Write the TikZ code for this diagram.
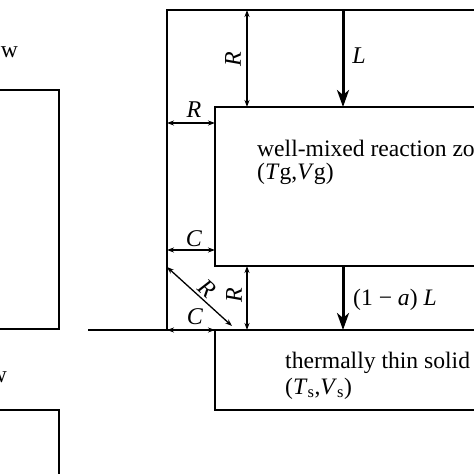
\documentclass[tikz,border=0pt]{standalone}
\usepackage{fontspec}
\setmainfont{Liberation Serif}
\usetikzlibrary{arrows.meta}
\begin{document}
\begin{tikzpicture}[x=1pt,y=-1pt,
  wall/.style={line width=1.7pt},
  dim/.style={line width=1.3pt,{Stealth[length=7pt,width=5pt]}-{Stealth[length=7pt,width=5pt]}},
  flux/.style={line width=3pt,-{Stealth[length=17pt,width=12pt,inset=5pt]}},
  lbl/.style={font=\fontsize{24}{27}\selectfont\itshape, inner sep=0pt},
  txt/.style={font=\fontsize{23.6}{27}\selectfont, inner sep=0pt, anchor=base west}]
\useasboundingbox (0,0) rectangle (474,474);
\clip (0,0) rectangle (474,474);
% named corners
\coordinate (oTL) at (167,10);
\coordinate (oTR) at (474,10);
\coordinate (oBL) at (167,330);
\coordinate (gL) at (88,330);
\coordinate (gR) at (474,330);
\coordinate (zTL) at (215,107);
\coordinate (zTR) at (474,107);
\coordinate (zBL) at (215,266);
\coordinate (zBR) at (474,266);
\coordinate (sTL) at (215,330);
\coordinate (sBL) at (215,410);
\coordinate (sBR) at (474,410);
% walls
\draw[wall] (oTR) -- (oTL) -- (oBL);
\draw[wall] (gL) -- (gR);
\draw[wall] (zTR) -- (zTL) -- (zBL) -- (zBR);
\draw[wall] (sTL) -- (sBL) -- (sBR);
% left partial boxes
\coordinate (l1a) at (-5,90);
\coordinate (l1b) at (59,90);
\coordinate (l1c) at (59,329);
\coordinate (l1d) at (-5,329);
\draw[wall] (l1a) -- (l1b) -- (l1c) -- (l1d);
\coordinate (l2a) at (-5,410);
\coordinate (l2b) at (59,410);
\coordinate (l2c) at (59,480);
\draw[wall] (l2a) -- (l2b) -- (l2c);
\node[txt, anchor=base east] (ow1) at (18,57) {ow};
\node[txt, anchor=base east] (ow2) at (7,382) {w};
% flux arrows
\coordinate (L1) at (343,10);
\coordinate (L2) at (343,107);
\draw[flux] (L1) -- (L2);
\node[lbl] (Llab) at (359,56) {L};
\coordinate (aL1) at (343,266);
\coordinate (aL2) at (343,330);
\draw[flux] (aL1) -- (aL2);
\node[txt] (aLlab) at (353,305) {(1 \char"2212\ \textit{a}) \textit{L}};
% dimension arrows
\coordinate (d1a) at (247,10);  \coordinate (d1b) at (247,107);
\draw[dim] (d1a) -- (d1b);
\node[lbl, rotate=90] (r1) at (233,59) {R};
\coordinate (d2a) at (167,123); \coordinate (d2b) at (215,123);
\draw[dim] (d2a) -- (d2b);
\node[lbl] (r2) at (194,110) {R};
\coordinate (d3a) at (167,250); \coordinate (d3b) at (215,250);
\draw[dim] (d3a) -- (d3b);
\node[lbl] (c1) at (194,239) {C};
\coordinate (d4a) at (167,267); \coordinate (d4b) at (232,326);
\draw[dim] (d4a) -- (d4b);
\node[lbl, rotate=-42] (r3) at (207,289) {R};
\coordinate (d5a) at (247,266); \coordinate (d5b) at (247,330);
\draw[dim] (d5a) -- (d5b);
\node[lbl, rotate=90] (r4) at (234,295) {R};
\coordinate (d6a) at (167,330); \coordinate (d6b) at (215,330);
\draw[dim] (d6a) -- (d6b);
\node[lbl] (c2) at (195,317) {C};
% texts
\node[txt] (zone) at (257,156) {well-mixed reaction zo};
\node[txt] (zoneTV) at (257,179) {(\textit{T}g,\textit{V}g)};
\node[txt] (solid) at (285,368) {thermally thin solid};
\node[txt] (solidTV) at (285,394) {(\textit{T}\textsubscript{s},\textit{V}\textsubscript{s})};
\end{tikzpicture}
\end{document}
